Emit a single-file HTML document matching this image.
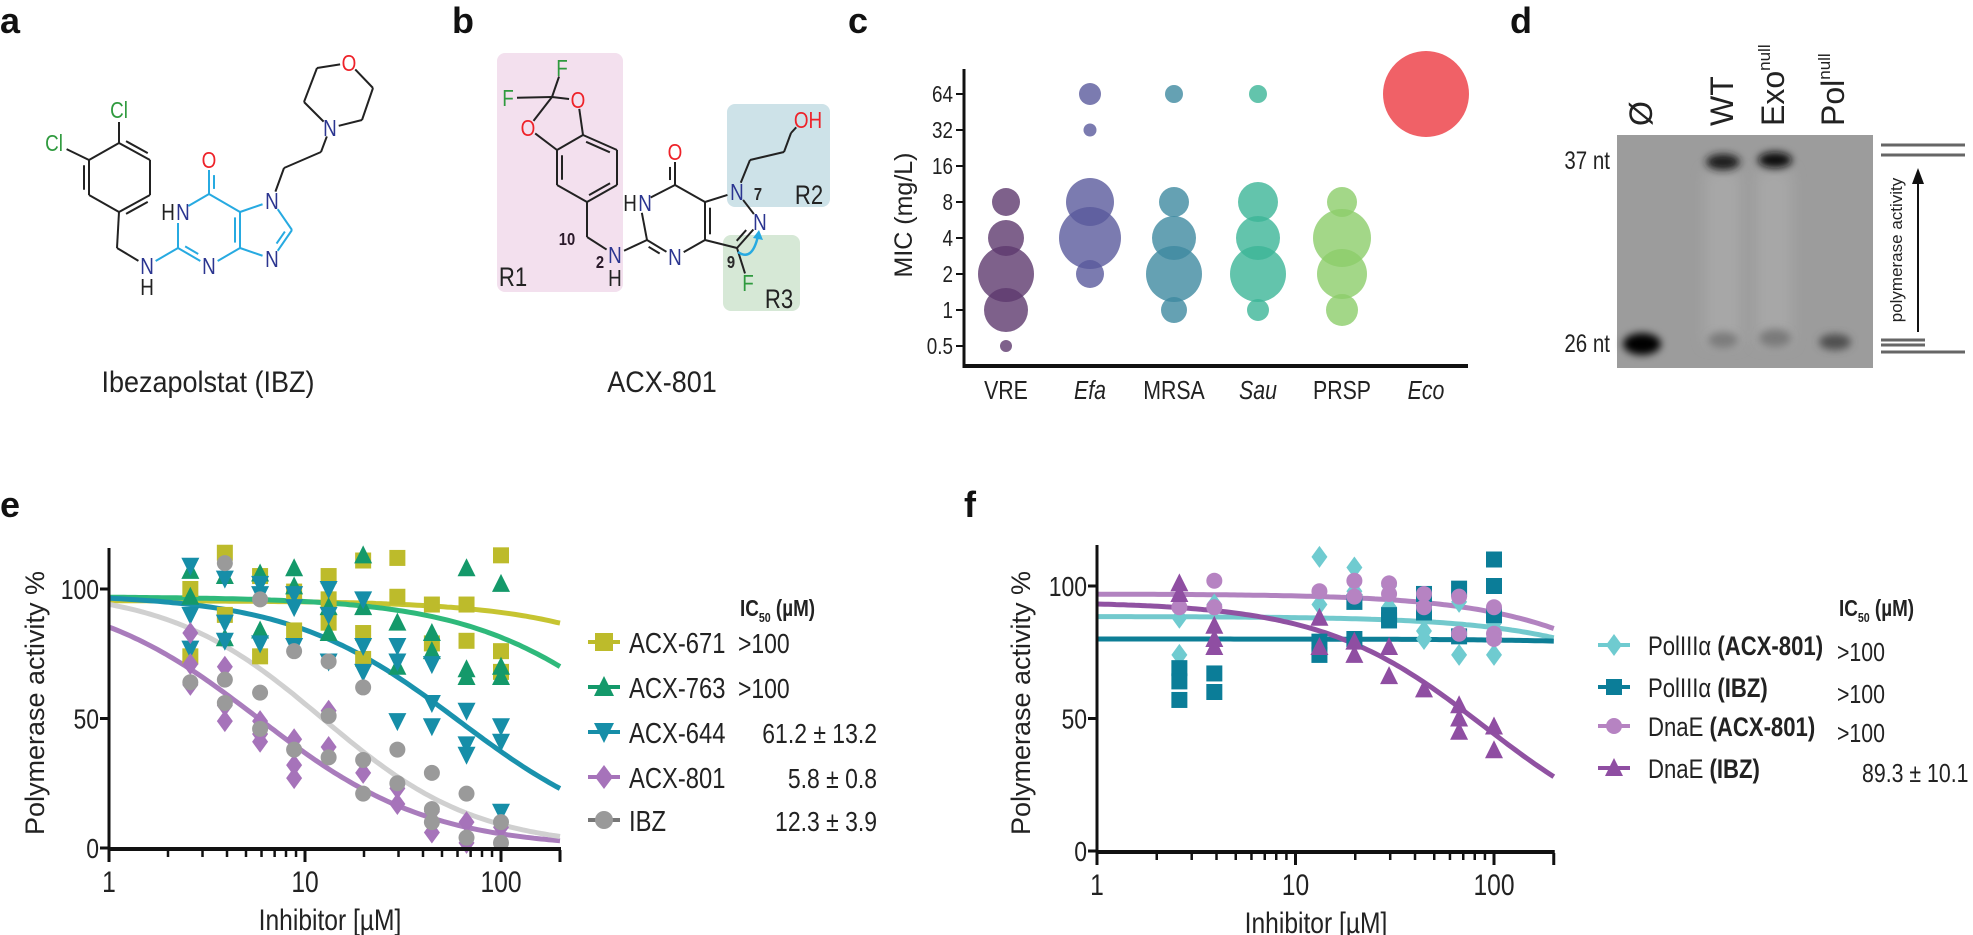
<!DOCTYPE html>
<html><head><meta charset="utf-8">
<style>
html,body{margin:0;padding:0;background:#fff;}
svg{display:block;font-family:"Liberation Sans",sans-serif;}
.n{font-family:"Liberation Sans Narrow","Liberation Sans",sans-serif;}
.lab{font-family:"Liberation Sans",sans-serif;font-weight:bold;font-size:36px;fill:#111;}
</style></head>
<body>
<svg id="fig" width="1973" height="935" viewBox="0 0 1973 935" xmlns="http://www.w3.org/2000/svg">
<defs>
<filter id="blur3" x="-50%" y="-50%" width="200%" height="200%"><feGaussianBlur stdDeviation="4"/></filter>
<filter id="blur6" x="-50%" y="-50%" width="200%" height="200%"><feGaussianBlur stdDeviation="7"/></filter>
</defs>
<text class="lab" x="0" y="33">a</text>
<text class="lab" x="452" y="33">b</text>
<text class="lab" x="848" y="33">c</text>
<text class="lab" x="1510" y="33">d</text>
<text class="lab" x="0" y="517">e</text>
<text class="lab" x="964" y="517">f</text>

<rect x="497" y="53" width="126" height="239" rx="8" fill="#f3e0ee"/>
<rect x="727" y="104" width="103" height="103" rx="8" fill="#cde2e8"/>
<rect x="723" y="235" width="77" height="76" rx="8" fill="#d6e8d6"/>
<g id="chemA"></g>
<g id="chemB"></g>
<text x="208" y="392" font-size="30" text-anchor="middle" fill="#222" transform="translate(208 0) scale(0.9 1) translate(-208 0)">Ibezapolstat (IBZ)</text>
<text x="662" y="392" font-size="30" text-anchor="middle" fill="#222" transform="translate(662 0) scale(0.9 1) translate(-662 0)">ACX-801</text>

<g id="panelC"></g>
<g id="panelD"></g>
<g id="panelE"></g>
<g id="panelF"></g>
</svg>
<script>
const NS='http://www.w3.org/2000/svg';
const SC=0.82;
function mk(parent,tag,attrs,name){
  const el=document.createElementNS(NS,tag);
  for(const k in attrs) el.setAttribute(k,attrs[k]);
  
  
  parent.appendChild(el);return el;
}
function txt(parent,x,y,s,attrs,name){
  attrs=attrs||{};
  const el=mk(parent,'text',Object.assign({x:x,y:y},attrs),name);
  if(attrs.class=='n'&&!attrs.transform) el.setAttribute('transform',`translate(${x} 0) scale(${SC} 1) translate(${-x} 0)`);
  el.textContent=s;return el;
}
const RED='#ee2229',BLU='#2b3590',GRN='#2f9a3e',CY='#27aae1',BLK='#222';
function bond(g,a,b,col,sa,sb,dbl){
  const dx=b[0]-a[0],dy=b[1]-a[1],L=Math.hypot(dx,dy),ux=dx/L,uy=dy/L;
  const x1=a[0]+ux*(sa||0),y1=a[1]+uy*(sa||0),x2=b[0]-ux*(sb||0),y2=b[1]-uy*(sb||0);
  mk(g,'line',{x1:x1,y1:y1,x2:x2,y2:y2,stroke:col,'stroke-width':2},'bond');
  if(dbl){const o=5*dbl,px=-uy*o,py=ux*o,t=0.15*L;
    mk(g,'line',{x1:x1+px+ux*t,y1:y1+py+uy*t,x2:x2+px-ux*t,y2:y2+py-uy*t,stroke:col,'stroke-width':2},'double-bond');}
}
function atom(g,p,s,col,name,anchor){txt(g,p[0],p[1]+8,s,{'font-size':23,fill:col,'text-anchor':anchor||'middle',class:'n'},name);}
(function(){
 const g=document.getElementById('chemA');
 const O1=[349,63],Ca=[373,88],Cb=[362,120],N4=[330,128],Cc=[304,102],Cd=[317,68],Ce=[321,152],Cf=[284,168];
 const N7=[272,201],C5=[240,212],C6=[209,194],O6=[209,160],N1=[178,212],C2=[178,248],N3=[209,266],C4=[240,248],N9=[272,259],C8=[292,230];
 const NH=[147,266],CH=[117,248],B1=[119,212],B2=[89,195],B3=[89,160],B4=[119,143],B5=[150,160],B6=[150,195],Cl1=[119,110],Cl2=[54,143];
 [[O1,Ca,9,0],[Ca,Cb,0,0],[Cb,N4,0,9],[N4,Cc,9,0],[Cc,Cd,0,0],[Cd,O1,0,9],[N4,Ce,9,0],[Ce,Cf,0,0],[Cf,N7,0,10]].forEach(b=>bond(g,b[0],b[1],BLK,b[2],b[3]));
 bond(g,C5,N7,CY,0,10);bond(g,N7,C8,CY,10,0);bond(g,C8,N9,CY,0,10,1);bond(g,N9,C4,CY,10,0);bond(g,C4,C5,CY,0,0,-1);
 bond(g,C5,C6,CY);bond(g,C6,O6,CY,0,10,1);bond(g,C6,N1,CY,0,12);bond(g,N1,C2,CY,11,0);bond(g,C2,N3,CY,0,10,-1);bond(g,N3,C4,CY,10,0);
 bond(g,C2,NH,CY,0,10);bond(g,NH,CH,BLK,10,0);bond(g,CH,B1,BLK);
 bond(g,B1,B2,BLK);bond(g,B2,B3,BLK,0,0,-1);bond(g,B3,B4,BLK);bond(g,B4,B5,BLK,0,0,-1);bond(g,B5,B6,BLK);bond(g,B6,B1,BLK,0,0,-1);
 bond(g,B4,Cl1,BLK,0,12);bond(g,B3,Cl2,BLK,0,14);
 atom(g,O1,'O',RED,'atom-o');atom(g,N4,'N',BLU,'atom-n');atom(g,N7,'N',BLU,'atom-n7');atom(g,O6,'O',RED,'atom-o6');
 atom(g,N9,'N',BLU,'atom-n9');atom(g,N3,'N',BLU,'atom-n3');atom(g,NH,'N',BLU,'atom-nh');atom(g,[147,287],'H',BLK,'atom-h');
 atom(g,[168,212],'H',BLK,'atom-h1');atom(g,[183,212],'N',BLU,'atom-n1');
 atom(g,Cl1,'Cl',GRN,'atom-cl');atom(g,Cl2,'Cl',GRN,'atom-cl');
})();
(function(){
 const g=document.getElementById('chemB');
 const F1=[562,68],F2=[508,98],CF=[552,97],Or=[578,100],Ol=[528,128];
 const A1=[557,150],A2=[583,135],A3=[617,150],A4=[617,185],A5=[587,202],A6=[557,185];
 const CH=[587,237],NH=[615,255],C2=[647,240],N3=[675,257],C4=[705,240],C5=[705,202],C6=[675,185],O=[675,152],N1=[640,203];
 const N7=[737,192],N8=[760,222],C9=[737,248],F=[748,283];
 const ch1=[750,160],ch2=[784,152],ch3=[791,133],OH=[803,120];
 bond(g,CF,F1,BLK,0,9);bond(g,CF,F2,BLK,0,9);bond(g,CF,Or,BLK,0,9);bond(g,CF,Ol,BLK,0,9);
 bond(g,Ol,A1,BLK,9,0);bond(g,Or,A2,BLK,9,0);
 bond(g,A1,A2,BLK);bond(g,A2,A3,BLK,0,0,1);bond(g,A3,A4,BLK);bond(g,A4,A5,BLK,0,0,1);bond(g,A5,A6,BLK);bond(g,A6,A1,BLK,0,0,1);
 bond(g,A5,CH,BLK);bond(g,CH,NH,BLK,0,10);bond(g,NH,C2,BLK,10,0);
 bond(g,C2,N1,BLK,0,10);bond(g,C2,N3,BLK,0,10,1);bond(g,N3,C4,BLK,10,0);bond(g,C4,C5,BLK,0,0,1);bond(g,C5,C6,BLK);bond(g,C6,O,BLK,0,10,-1);bond(g,C6,N1,BLK,0,12);
 bond(g,C5,N7,BLK,0,10);bond(g,N7,N8,BLK,10,10);bond(g,N8,C9,BLK,10,0,1);bond(g,C9,C4,BLK);bond(g,C9,F,BLK,0,10);
 bond(g,N7,ch1,BLK,10,0);bond(g,ch1,ch2,BLK);bond(g,ch2,ch3,BLK);bond(g,ch3,OH,BLK,0,10);
 mk(g,'path',{d:'M738 252 Q752 262 758 236',fill:'none',stroke:CY,'stroke-width':2.5},'curved-arrow');
 mk(g,'path',{d:'M753 238 L759 230 L763 240 Z',fill:CY},'curved-arrow-head');
 atom(g,F1,'F',GRN,'atom-f');atom(g,F2,'F',GRN,'atom-f');atom(g,Or,'O',RED,'atom-o');atom(g,Ol,'O',RED,'atom-o');
 atom(g,O,'O',RED,'atom-o');atom(g,[630,203],'H',BLK,'atom-h');atom(g,[645,203],'N',BLU,'atom-n1');
 atom(g,N3,'N',BLU,'atom-n3');atom(g,NH,'N',BLU,'atom-nh');atom(g,[615,278],'H',BLK,'atom-h');
 atom(g,N7,'N',BLU,'atom-n7');atom(g,N8,'N',BLU,'atom-n8');atom(g,F,'F',GRN,'atom-f');atom(g,[808,120],'OH',RED,'atom-oh');
 txt(g,567,245,'10',{'font-size':18,'font-weight':'bold',fill:'#2a1a2a','text-anchor':'middle',class:'n'},'position-10');
 txt(g,600,268,'2',{'font-size':18,'font-weight':'bold',fill:'#2a1a2a','text-anchor':'middle',class:'n'},'position-2');
 txt(g,758,200,'7',{'font-size':18,'font-weight':'bold',fill:'#2a2a2a','text-anchor':'middle',class:'n'},'position-7');
 txt(g,731,268,'9',{'font-size':18,'font-weight':'bold',fill:'#2a2a2a','text-anchor':'middle',class:'n'},'position-9');
 txt(g,513,286,'R1',{'font-size':27,fill:'#222','text-anchor':'middle',class:'n'},'r1-label');
 txt(g,809,204,'R2',{'font-size':27,fill:'#222','text-anchor':'middle',class:'n'},'r2-label');
 txt(g,779,308,'R3',{'font-size':27,fill:'#222','text-anchor':'middle',class:'n'},'r3-label');
})();
</script>
<script>
const micCategories=['VRE','Efa','MRSA','Sau','PRSP','Eco'];
const micItalic=[false,true,false,true,false,true];
const micColors=['#5e3a6e','#5a5a9c','#3f8aa0','#3cb597','#8ccd6a','#f06167'];
const micTicks=[0.5,1,2,4,8,16,32,64];
const micValues=[[8,4,2,1,0.5],[64,32,8,4,2],[64,8,4,2,1],[64,8,4,2,1],[8,4,2,1],[64]];
const micRadii=[[14,18,28,22,6],[11,6.5,24,31,14],[9,15,22,28,13],[9,20,22,28,11],[15,29,25,16],[43]];
(function(){
 const g=document.getElementById('panelC');
 const x0=964,x1=1468,catX=i=>1006+i*84,yC=v=>346-Math.log2(v/0.5)*36;
 micValues.forEach((vals,i)=>vals.forEach((v,j)=>{
   const c=mk(g,'circle',{cx:catX(i),cy:yC(v),r:micRadii[i][j],fill:micColors[i],'fill-opacity':i==5?1:0.8},'mic-bubble');
   
 }));
 mk(g,'line',{x1:x0,y1:69,x2:x0,y2:367,stroke:'#111','stroke-width':3},'c-y-axis');
 mk(g,'line',{x1:x0-1.5,y1:366,x2:x1,y2:366,stroke:'#111','stroke-width':4},'c-x-axis');
 micTicks.forEach(t=>{mk(g,'line',{x1:x0-8,y1:yC(t),x2:x0,y2:yC(t),stroke:'#111','stroke-width':2},'c-y-tick');
   txt(g,x0-11,yC(t)+8,String(t),{'font-size':23,'text-anchor':'end',fill:'#222',class:'n'},'c-y-tick-label');});
 micCategories.forEach((c,i)=>txt(g,catX(i),399,c,{'font-size':26,'text-anchor':'middle',fill:'#222',class:'n','font-style':micItalic[i]?'italic':'normal'},'c-category-label'));
 txt(g,0,0,'MIC (mg/L)',{'font-size':25,'text-anchor':'middle',fill:'#222',transform:'translate(912,215) rotate(-90)'},'c-y-axis-title');
})();
(function(){
 const g=document.getElementById('panelD');
 mk(g,'rect',{x:1617,y:135,width:256,height:233,fill:'#9c9c9c'},'gel-image');
 mk(g,'rect',{x:1705,y:170,width:36,height:175,fill:'#b2b2b2',opacity:0.5,filter:'url(#blur6)'},'wt-smear');
 mk(g,'rect',{x:1756,y:170,width:36,height:175,fill:'#b2b2b2',opacity:0.5,filter:'url(#blur6)'},'exo-smear');
 mk(g,'ellipse',{cx:1642,cy:344,rx:19,ry:11,fill:'#050505',filter:'url(#blur3)'},'band-empty-26nt');
 mk(g,'ellipse',{cx:1723,cy:340,rx:15,ry:8,fill:'#7c7c7c',filter:'url(#blur3)'},'band-wt-26nt');
 mk(g,'ellipse',{cx:1775,cy:338,rx:16,ry:9,fill:'#7a7a7a',filter:'url(#blur3)'},'band-exo-26nt');
 mk(g,'ellipse',{cx:1835,cy:342,rx:16,ry:8,fill:'#505050',filter:'url(#blur3)'},'band-pol-26nt');
 mk(g,'ellipse',{cx:1723,cy:162,rx:17,ry:8,fill:'#1c1c1c',filter:'url(#blur3)'},'band-wt-37nt');
 mk(g,'ellipse',{cx:1775,cy:160,rx:17,ry:8,fill:'#0c0c0c',filter:'url(#blur3)'},'band-exo-37nt');
 txt(g,1610,169,'37 nt',{'font-size':25,'text-anchor':'end',fill:'#222',class:'n'},'marker-37nt');
 txt(g,1610,352,'26 nt',{'font-size':25,'text-anchor':'end',fill:'#222',class:'n'},'marker-26nt');
 [[145,1965],[155,1965],[340,1925],[345,1925],[352,1965]].forEach(l=>mk(g,'line',{x1:1881,y1:l[0],x2:l[1],y2:l[0],stroke:'#666','stroke-width':3},'size-marker-line'));
 mk(g,'line',{x1:1918,y1:332,x2:1918,y2:182,stroke:'#111','stroke-width':2},'activity-arrow');
 mk(g,'path',{d:'M1912 184 L1918 168 L1924 184 Z',fill:'#111'},'activity-arrow-head');
 txt(g,0,0,'polymerase activity',{'font-size':17,'text-anchor':'middle',fill:'#222',transform:'translate(1902,250) rotate(-90)'},'arrow-label');
 const lanes=[[1652,'Ø',''],[1733,'WT',''],[1784,'Exo','null'],[1844,'Pol','null']];
 lanes.forEach(l=>{const t=txt(g,0,0,l[1],{'font-size':32,fill:'#222',transform:'translate('+l[0]+',126) rotate(-90)'},'lane-label');
   if(l[2]){const s=document.createElementNS(NS,'tspan');s.setAttribute('font-size','17');s.setAttribute('dy','-14');s.textContent=l[2];
     
     t.appendChild(s);}});
})();
</script>
<script>
const eConc=[2.6,3.9,5.9,8.8,13.2,19.8,29.6,44.4,66.7,100];
const eNames=['ACX-671','ACX-763','ACX-644','ACX-801','IBZ'];
const eIC50Text=['>100','>100','61.2 ± 13.2','5.8 ±  0.8','12.3 ±  3.9'];
const eTop=[95.5,97,98,100,100];
const eIC50=[2000,520,61.2,5.8,12.3];
const eHill=[1,1,1,1,1.1];
const e671=[[100,74],[114,90],[105,74],[99,84],[105,87,96],[111,83,73],[112,97],[94,79],[94,80],[113,76,68]];
const e763=[[107,97],[105,81],[106,84],[108,101],[93,83],[113,93],[87,70],[83,76],[108,69,66],[102,70,66]];
const e644=[[109,90,77],[104,87,80],[102,98,79],[98,93,78],[100,90,72],[96,78,68],[78,72,49],[71,56,47],[53,40,36],[47,41,14]];
const e801=[[83,71,63],[70,55,49],[49,44,41],[42,32,27],[53,39],[29],[23,17],[14,6],[10,2],[8]];
const eIBZ=[[64],[110,65,56],[96,60,46],[76,38],[72,51,35],[62,34,21],[38,25],[29,15,10],[21,4],[10,2]];
const fConc=[2.6,3.9,13.2,19.8,29.6,44.4,66.7,100];
const fNames=['PolIIIα','PolIIIα','DnaE','DnaE'];
const fCompounds=['(ACX-801)','(IBZ)','(ACX-801)','(IBZ)'];
const fIC50Text=['>100','>100','>100','89.3 ± 10.1'];
const fTop=[88.5,80,97,94];
const fIC50=[2000,20000,1290,89.3];
const fHill=[1,1,1,1.06];
const fPol801=[[88,74],[93],[111,93],[107,98],[100,92],[83,80],[94,74],[86,74]];
const fPolIBZ=[[69,64,57],[67,60],[79,74],[80,94],[89,87],[97,90],[99,81],[110,100,89]];
const fDna801=[[92],[102,92],[98],[102,96],[101,97],[97,92],[96,82],[92,82,80]];
const fDnaIBZ=[[101,97],[85,80,77],[88,77],[79,74],[77,66],[61],[55,50,45],[47,38]];

function marker(g,shape,x,y,col,s,name){
  s=s||8;let el;
  if(shape=='sq') el=mk(g,'rect',{x:x-s,y:y-s,width:2*s,height:2*s,fill:col},name);
  else if(shape=='up') el=mk(g,'path',{d:`M${x} ${y-s-2}L${x+s+1} ${y+s}L${x-s-1} ${y+s}Z`,fill:col},name);
  else if(shape=='dn') el=mk(g,'path',{d:`M${x} ${y+s+2}L${x+s+1} ${y-s}L${x-s-1} ${y-s}Z`,fill:col},name);
  else if(shape=='di') el=mk(g,'path',{d:`M${x} ${y-s-3}L${x+s} ${y}L${x} ${y+s+3}L${x-s} ${y}Z`,fill:col},name);
  else el=mk(g,'circle',{cx:x,cy:y,r:s,fill:col},name);
  return el;
}
function doseChart(cfg){
  const g=cfg.g,X=cfg.X,Y=cfg.Y;
  cfg.top.forEach((t,i)=>{let d='';
    for(let k=0;k<=120;k++){const lv=k/120*Math.log10(200),v=Math.pow(10,lv);
      const yv=t/(1+Math.pow(v/cfg.ic50[i],cfg.hill[i]));d+=(k?'L':'M')+X(v).toFixed(1)+' '+Y(yv).toFixed(1);}
    mk(g,'path',{d:d,fill:'none',stroke:cfg.curveCol[i],'stroke-width':5},'fit-curve-'+i);});
  cfg.series.forEach((ser,i)=>ser.forEach((vals,j)=>vals.forEach(v=>marker(g,cfg.shapes[i],X(cfg.conc[j]),Y(v),cfg.col[i],8,'data-point'))));
  const x0=X(1),x1=X(200);
  mk(g,'line',{x1:x0,y1:cfg.top0,x2:x0,y2:Y(0)+2,stroke:'#111','stroke-width':3},'y-axis');
  mk(g,'line',{x1:x0-1.5,y1:Y(0)+1,x2:x1+1,y2:Y(0)+1,stroke:'#111','stroke-width':4},'x-axis');
  [0,50,100].forEach(t=>{mk(g,'line',{x1:x0-9,y1:Y(t),x2:x0,y2:Y(t),stroke:'#111','stroke-width':3},'y-tick');
    txt(g,x0-10,Y(t)+10,String(t),{'font-size':28,'text-anchor':'end',fill:'#222',class:'n'},'y-tick-label');});
  [1,2,3,4,5,6,7,8,9,10,20,30,40,50,60,70,80,90,100,200].forEach(t=>{const maj=[1,10,100,200].includes(t);
    mk(g,'line',{x1:X(t),y1:Y(0)+2,x2:X(t),y2:Y(0)+(maj?14:9),stroke:'#111','stroke-width':maj?3:2.5},'x-tick');});
  [1,10,100].forEach(t=>txt(g,X(t),Y(0)+44,String(t),{'font-size':30,'text-anchor':'middle',fill:'#222',class:'n'},'x-tick-label'));
  txt(g,cfg.xtX,Y(0)+82,cfg.xtitle,{'font-size':30,'text-anchor':'middle',fill:'#222',class:'n'},'x-axis-title');
  txt(g,0,0,'Polymerase activity %',{'font-size':27,'text-anchor':'middle',fill:'#222',transform:`translate(${cfg.ytX},703) rotate(-90)`},'y-axis-title');
}
function ic50Header(g,x){
 const h=txt(g,x,616,'IC',{'font-size':23,'font-weight':'bold',fill:'#222',class:'n'},'ic50-header');
 const s1=document.createElementNS(NS,'tspan');s1.setAttribute('font-size','13');s1.setAttribute('dy','6');s1.textContent='50';
 
 h.appendChild(s1);
 const s2=document.createElementNS(NS,'tspan');s2.setAttribute('dy','-6');s2.textContent=' (µM)';
 
 h.appendChild(s2);
}
(function(){
 const g=document.getElementById('panelE');
 const X=v=>109+Math.log10(v)*196, Y=v=>848-v*2.59;
 const col=['#bdbb2b','#14996a','#168ea8','#a673ba','#9a9a9a'];
 const curveCol=['#c6c431','#2fb97b','#1a92ad','#a97cbc','#d0d0d0'];
 const shapes=['sq','up','dn','di','ci'];
 doseChart({g,X,Y,conc:eConc,series:[e671,e763,e644,e801,eIBZ],top:eTop,ic50:eIC50,hill:eHill,col,curveCol,shapes,top0:548,xtX:330,ytX:44,xtitle:'Inhibitor  [µM]'});
 const rows=[642,687,732,777,820];
 ic50Header(g,740);
 eNames.forEach((n,i)=>{
   mk(g,'line',{x1:588,y1:rows[i],x2:620,y2:rows[i],stroke:curveCol[i]=='#d0d0d0'?'#777':col[i],'stroke-width':4},'legend-line');
   marker(g,shapes[i],604,rows[i],col[i],9,'legend-marker');
   txt(g,629,rows[i]+11,n,{'font-size':29,fill:'#222',class:'n'},'legend-entry-'+n.toLowerCase());
   const ax=i<2?738:877;
   txt(g,ax,rows[i]+11,eIC50Text[i],{'font-size':28,fill:'#222',class:'n','text-anchor':i<2?'start':'end'},'ic50-value');
 });
})();
(function(){
 const g=document.getElementById('panelF');
 const X=v=>1097+Math.log10(v)*198.5, Y=v=>851-v*2.65;
 const col=['#6fcbd0','#0b7d98','#b683c2','#8f4ea2'];
 const curveCol=['#72c9cd','#0d7e96','#b283c0','#9052a2'];
 const shapes=['di','sq','ci','up'];
 doseChart({g,X,Y,conc:fConc,series:[fPol801,fPolIBZ,fDna801,fDnaIBZ],top:fTop,ic50:fIC50,hill:fHill,col,curveCol,shapes,top0:545,xtX:1316,ytX:1030,xtitle:'Inhibitor [µM]'});
 const rows=[645,687,726,768];
 ic50Header(g,1839);
 fNames.forEach((n,i)=>{
   mk(g,'line',{x1:1598,y1:rows[i],x2:1630,y2:rows[i],stroke:col[i],'stroke-width':4},'legend-line');
   marker(g,shapes[i],1614,rows[i],col[i],8,'legend-marker');
   const t=txt(g,1648,rows[i]+10,n+' ',{'font-size':27,fill:'#222',class:'n'},'legend-entry-'+n.toLowerCase());
   const b=document.createElementNS(NS,'tspan');b.setAttribute('font-weight','bold');b.textContent=fCompounds[i];
   
   t.appendChild(b);
   txt(g,i<3?1837:1862,rows[i]+(i<3?16:14),fIC50Text[i],{'font-size':26,fill:'#222',class:'n'},'ic50-value');
 });
})();
</script>
</body></html>
